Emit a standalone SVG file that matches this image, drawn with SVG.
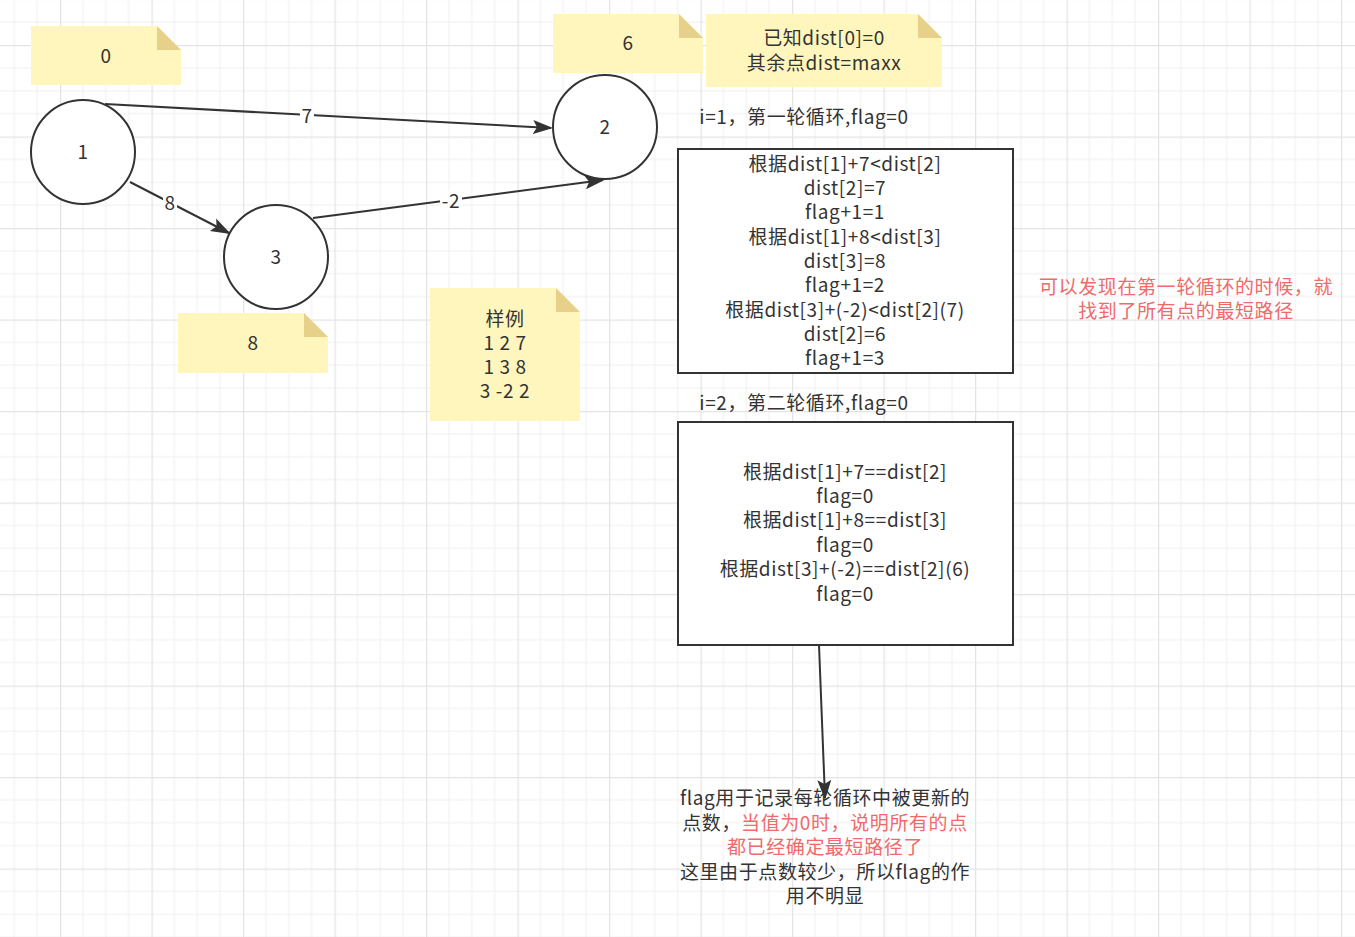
<svg xmlns="http://www.w3.org/2000/svg" width="1355" height="937" viewBox="0 0 1355 937">
<defs>
<pattern id="g" x="60" y="45" width="91.5" height="91.5" patternUnits="userSpaceOnUse">
<path d="M22.875 0V91.5M45.75 0V91.5M68.625 0V91.5M0 22.875H91.5M0 45.75H91.5M0 68.625H91.5" stroke="#f0f0f0" stroke-width="1" fill="none"/>
<path d="M0.5 0V91.5M0 0.5H91.5" stroke="#e4e4e4" stroke-width="1.5" fill="none"/>
</pattern>
<marker id="a" viewBox="0 0 20 20" refX="18" refY="10" markerWidth="20" markerHeight="20" orient="auto" markerUnits="userSpaceOnUse">
<path d="M0 3L20 10L0 17L4 10Z" fill="#333"/>
</marker>
</defs>
<style>
text{font-family:"Microsoft YaHei","Noto Sans CJK SC",sans-serif;font-size:19px;fill:#333;text-anchor:middle;letter-spacing:0.6px}
.c{fill:#fff;stroke:#333;stroke-width:2}
.b{fill:#fff;stroke:#333;stroke-width:2}
.n{fill:#fff6bd}
.f{fill:#e6d08a}
.r{fill:#ef6a6a}
.e{stroke:#333;stroke-width:2;fill:none}
.l{fill:#fff}
</style>
<rect width="1355" height="937" fill="#fff"/>
<rect width="1355" height="937" fill="url(#g)"/>
<g id="connectors">
<path class="e" d="M105 104L551 128" marker-end="url(#a)"/>
<path class="e" d="M130 182L229 233" marker-end="url(#a)"/>
<path class="e" d="M313 218L603 180" marker-end="url(#a)"/>
<path class="e" d="M819 645L825 798" marker-end="url(#a)"/>
<rect class="l" x="300" y="106" width="14" height="20"/><text x="307" y="123">7</text>
<rect class="l" x="163" y="193" width="14" height="20"/><text x="170" y="210">8</text>
<rect class="l" x="440" y="191" width="22" height="20"/><text x="451" y="208">-2</text>
</g>
<g id="n1"><circle class="c" cx="83" cy="152" r="52"/><text x="83" y="159">1</text></g>
<g id="n2"><circle class="c" cx="605" cy="127" r="52"/><text x="605" y="134">2</text></g>
<g id="n3"><circle class="c" cx="276" cy="257" r="52"/><text x="276" y="264">3</text></g>
<g id="note0"><path class="n" d="M31 26H157L181 50V85H31Z"/><path class="f" d="M157 26L181 50H157Z"/><text x="106" y="63">0</text></g>
<g id="note6"><path class="n" d="M553 14H679L703 38V73H553Z"/><path class="f" d="M679 14L703 38H679Z"/><text x="628" y="50">6</text></g>
<g id="note8"><path class="n" d="M178 313H304L328 337V373H178Z"/><path class="f" d="M304 313L328 337H304Z"/><text x="253" y="350">8</text></g>
<g id="noteInit"><path class="n" d="M706 14H918L942 38V87H706Z"/><path class="f" d="M918 14L942 38H918Z"/><text x="824" y="45">已知dist[0]=0</text><text x="824" y="70">其余点dist=maxx</text></g>
<g id="noteSample"><path class="n" d="M430 288H556L580 312V421H430Z"/><path class="f" d="M556 288L580 312H556Z"/><text x="505" y="326">样例</text><text x="505" y="350">1 2 7</text><text x="505" y="374">1 3 8</text><text x="505" y="398">3 -2 2</text></g>
<g id="label1"><text x="804" y="124">i=1，第一轮循环,flag=0</text></g>
<g id="box1"><rect class="b" x="678" y="149" width="335" height="224"/>
<text x="845" y="171">根据dist[1]+7&lt;dist[2]</text>
<text x="845" y="195">dist[2]=7</text>
<text x="845" y="219">flag+1=1</text>
<text x="845" y="244">根据dist[1]+8&lt;dist[3]</text>
<text x="845" y="268">dist[3]=8</text>
<text x="845" y="292">flag+1=2</text>
<text x="845" y="317">根据dist[3]+(-2)&lt;dist[2](7)</text>
<text x="845" y="341">dist[2]=6</text>
<text x="845" y="365">flag+1=3</text></g>
<g id="label2"><text x="804" y="410">i=2，第二轮循环,flag=0</text></g>
<g id="box2"><rect class="b" x="678" y="422" width="335" height="223"/>
<text x="845" y="479">根据dist[1]+7==dist[2]</text>
<text x="845" y="503">flag=0</text>
<text x="845" y="527">根据dist[1]+8==dist[3]</text>
<text x="845" y="552">flag=0</text>
<text x="845" y="576">根据dist[3]+(-2)==dist[2](6)</text>
<text x="845" y="601">flag=0</text></g>
<g id="noteRed"><text class="r" x="1186" y="294">可以发现在第一轮循环的时候，就</text><text class="r" x="1186" y="318">找到了所有点的最短路径</text></g>
<g id="noteFlag">
<text x="825" y="805">flag用于记录每轮循环中被更新的</text>
<text x="825" y="830">点数，<tspan class="r">当值为0时，说明所有的点</tspan></text>
<text class="r" x="825" y="854">都已经确定最短路径了</text>
<text x="825" y="879">这里由于点数较少，所以flag的作</text>
<text x="825" y="903">用不明显</text></g>
</svg>
